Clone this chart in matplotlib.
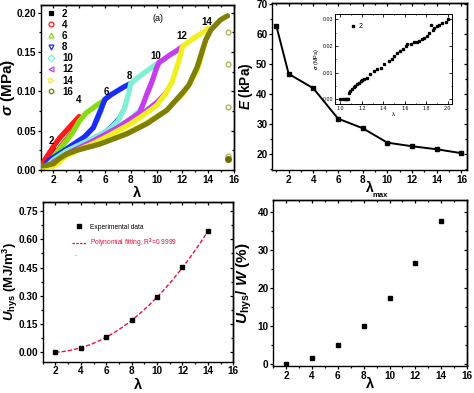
import numpy as np
import matplotlib
matplotlib.use("Agg")
import matplotlib.pyplot as plt
from matplotlib.lines import Line2D
from matplotlib.ticker import MultipleLocator, FormatStrFormatter

plt.rcParams['font.family'] = ['Liberation Sans', 'DejaVu Sans']
plt.rcParams['mathtext.fontset'] = 'custom'
plt.rcParams['mathtext.rm'] = 'Liberation Sans:bold'
plt.rcParams['mathtext.bf'] = 'Liberation Sans:bold'
plt.rcParams['mathtext.it'] = 'Liberation Sans:italic:bold'
plt.rcParams['axes.linewidth'] = 1.0

# ---------------- data: panel (a) hysteresis loops ----------------
cycle_labels = ['2', '4', '6', '8', '10', '12', '14', '16']

load_2 = [(1.0, 0.0), (1.2, 0.008), (1.5, 0.016), (1.8, 0.023), (2.0, 0.028)]
unload_2 = [(2.0, 0.028), (1.8, 0.018), (1.5, 0.009), (1.2, 0.003), (1.05, 0.0)]

load_4 = [(1.0, 0.002), (1.3, 0.012), (1.7, 0.022), (2.0, 0.03), (2.5, 0.041),
          (3.0, 0.05), (3.5, 0.059), (4.0, 0.068)]
unload_4 = [(4.0, 0.068), (3.8, 0.06), (3.4, 0.05), (3.0, 0.041), (2.5, 0.031),
            (2.0, 0.02), (1.6, 0.011), (1.3, 0.004), (1.1, 0.0)]

load_6 = [(1.3, 0.003), (1.8, 0.013), (2.5, 0.027), (3.0, 0.037), (3.5, 0.048),
          (4.0, 0.062), (4.5, 0.072), (5.0, 0.078), (5.5, 0.084), (6.0, 0.089)]
unload_6 = [(6.0, 0.089), (5.8, 0.075), (5.5, 0.063), (5.0, 0.05), (4.5, 0.042),
            (4.0, 0.036), (3.0, 0.026), (2.0, 0.013), (1.5, 0.005), (1.2, 0.0)]

load_8 = [(1.3, 0.004), (1.6, 0.012), (2.4, 0.02), (3.4, 0.031), (4.4, 0.042),
          (5.1, 0.054), (5.5, 0.07), (5.8, 0.082), (6.0, 0.09), (6.5, 0.096),
          (7.0, 0.101), (7.5, 0.106), (8.0, 0.11)]
unload_8 = [(8.0, 0.11), (7.8, 0.095), (7.5, 0.08), (7.0, 0.066), (6.5, 0.057),
            (6.0, 0.05), (5.0, 0.04), (4.0, 0.032), (3.0, 0.024), (2.0, 0.012),
            (1.5, 0.004)]

load_10 = [(1.5, 0.005), (2.0, 0.013), (3.0, 0.024), (4.0, 0.032), (5.0, 0.04),
           (6.0, 0.048), (6.5, 0.054), (7.0, 0.062), (7.5, 0.078), (7.8, 0.095),
           (8.0, 0.11), (8.5, 0.117), (9.0, 0.123), (9.5, 0.129), (10.0, 0.135)]
unload_10 = [(10.0, 0.135), (9.8, 0.115), (9.5, 0.1), (9.0, 0.085), (8.5, 0.075),
             (8.0, 0.067), (7.0, 0.056), (6.0, 0.047), (5.0, 0.04), (4.0, 0.033),
             (3.0, 0.025), (2.0, 0.013), (1.6, 0.005)]

load_12 = [(1.6, 0.003), (2.0, 0.01), (3.0, 0.02), (4.0, 0.028), (5.0, 0.036),
           (6.0, 0.045), (7.0, 0.054), (8.0, 0.065), (8.7, 0.073), (9.26, 0.097),
           (9.7, 0.115), (10.0, 0.13), (10.2, 0.137), (10.5, 0.14), (11.0, 0.146),
           (11.5, 0.151), (12.0, 0.157)]
unload_12 = [(12.0, 0.157), (11.85, 0.145), (11.5, 0.13), (11.2, 0.114), (10.7, 0.1),
             (10.0, 0.088), (9.0, 0.075), (8.0, 0.064), (7.0, 0.055), (6.0, 0.046),
             (5.0, 0.038), (4.0, 0.03), (3.0, 0.022), (2.0, 0.01), (1.6, 0.003)]

load_14 = [(1.8, 0.002), (2.0, 0.008), (3.0, 0.018), (4.0, 0.026), (5.0, 0.033),
           (6.0, 0.041), (7.0, 0.05), (8.0, 0.059), (9.0, 0.07), (10.0, 0.082),
           (10.7, 0.097), (11.2, 0.112), (11.5, 0.127), (11.8, 0.143), (12.0, 0.157),
           (12.5, 0.163), (13.0, 0.169), (13.5, 0.174), (14.0, 0.18)]
unload_14 = [(14.0, 0.18), (13.8, 0.16), (13.5, 0.14), (13.2, 0.125), (12.5, 0.105),
             (12.0, 0.093), (11.0, 0.08), (10.0, 0.07), (9.0, 0.06), (8.0, 0.051),
             (7.0, 0.044), (6.0, 0.038), (5.0, 0.032), (4.0, 0.025), (3.0, 0.017),
             (2.5, 0.008), (2.0, 0.003), (1.5, 0.002), (1.0, 0.003)]

load_16 = [(1.0, 0.005), (1.5, 0.006), (2.0, 0.008), (2.5, 0.015), (3.0, 0.02),
           (3.8, 0.025), (5.6, 0.033), (7.7, 0.046), (9.26, 0.059), (10.8, 0.076),
           (12.0, 0.098), (12.5, 0.108), (13.15, 0.131), (13.8, 0.165), (14.2, 0.178),
           (14.96, 0.191), (15.5, 0.196)]
unload_16 = [(15.5, 0.176), (15.5, 0.135), (15.5, 0.08), (15.5, 0.018)]
end_16 = [(15.55, 0.014)]

loads = [load_2, load_4, load_6, load_8, load_10, load_12, load_14, load_16]
unloads = [unload_2, unload_4, unload_6, unload_8, unload_10, unload_12, unload_14, unload_16]

# ---------------- data: panel (b) modulus ----------------
lam_max = [1, 2, 4, 6, 8, 10, 12, 14, 16]
E_kPa = [62.7, 46.7, 41.9, 31.8, 28.6, 23.8, 22.6, 21.6, 20.3]

# inset: first cycle, lambda_max = 2
inset_lam = [1.00, 1.02, 1.04, 1.05, 1.06, 1.07, 1.08, 1.09, 1.11, 1.125, 1.14, 1.156,
             1.17, 1.19, 1.205, 1.22, 1.25, 1.28, 1.31, 1.34, 1.375, 1.41, 1.45, 1.48,
             1.5, 1.53, 1.56, 1.58, 1.61, 1.625, 1.66, 1.69, 1.71, 1.73, 1.76, 1.78,
             1.81, 1.83, 1.84, 1.86, 1.875, 1.9, 1.92, 1.95, 1.98, 2.0]
inset_sig = [0.0, 0.0, 0.0, 0.0, 0.0, 0.0, 0.0025, 0.003, 0.0038, 0.0044, 0.005, 0.0056,
             0.0062, 0.0069, 0.0071, 0.0075, 0.0081, 0.0094, 0.0106, 0.0112, 0.0119,
             0.0131, 0.0144, 0.0152, 0.0163, 0.0175, 0.0181, 0.0188, 0.0198, 0.0206,
             0.0209, 0.0213, 0.0216, 0.0219, 0.0225, 0.0231, 0.0238, 0.025, 0.028,
             0.026, 0.0269, 0.0275, 0.028, 0.0285, 0.029, 0.030]

# ---------------- data: panel (c) and (d) ----------------
lam_c = [2, 4, 6, 8, 10, 12, 14]
U_hys = [0.0, 0.025, 0.08, 0.169, 0.293, 0.451, 0.642]
U_ratio = [0.0, 1.5, 4.9, 10.1, 17.4, 26.6, 37.8]

# ---------------- style ----------------
colors = ['#000000', '#ff1a1a', '#86dc10', '#1a2bff', '#7ff0d4', '#c83cf0', '#f0f020', '#7f7f00']
markers = ['s', 'o', '^', 'v', 'D', '<', '>', 'h']

W, H = 474, 393
fig = plt.figure(figsize=(W / 100, H / 100), dpi=100)


def add_ax(l, r, t, b):
    return fig.add_axes([l / W, 1 - b / H, (r - l) / W, (b - t) / H])


def style_ticks(ax, xmaj, xmin, ymaj, ymin, fs=7.2):
    ax.xaxis.set_major_locator(MultipleLocator(xmaj))
    ax.xaxis.set_minor_locator(MultipleLocator(xmin))
    ax.yaxis.set_major_locator(MultipleLocator(ymaj))
    ax.yaxis.set_minor_locator(MultipleLocator(ymin))
    ax.tick_params(which='both', direction='out', top=False, right=False,
                   labelsize=fs, width=0.9, pad=1.0)
    ax.tick_params(which='major', length=2.3)
    ax.tick_params(which='minor', length=1.4)
    sx = ax.secondary_xaxis('top')
    sx.xaxis.set_major_locator(MultipleLocator(xmaj))
    sx.xaxis.set_minor_locator(MultipleLocator(xmin))
    sx.tick_params(which='both', direction='in', labeltop=False, width=0.9)
    sx.tick_params(which='major', length=2.5)
    sx.tick_params(which='minor', length=1.5)
    sy = ax.secondary_yaxis('right')
    sy.yaxis.set_major_locator(MultipleLocator(ymaj))
    sy.yaxis.set_minor_locator(MultipleLocator(ymin))
    sy.tick_params(which='both', direction='in', labelright=False, width=0.9)
    sy.tick_params(which='major', length=2.5)
    sy.tick_params(which='minor', length=1.5)


def bold_ticklabels(ax):
    for lab in ax.get_xticklabels() + ax.get_yticklabels():
        lab.set_fontweight('bold')


def place_labels(ax, xl, yl, xlab_y, ylab_x, xfs=10.5, yfs=11.0):
    ax.set_xlabel(xl, fontsize=xfs, fontweight='bold')
    ax.set_ylabel(yl, fontsize=yfs, fontweight='bold')
    ax.xaxis.label.set_va('center')
    ax.yaxis.label.set_va('center')
    ax.xaxis.set_label_coords(0.5, xlab_y)
    ax.yaxis.set_label_coords(ylab_x, 0.5)


# ---------------- panel (a) ----------------
axa = add_ax(40.5, 234, 5, 170)
for i, (ld, ul) in enumerate(zip(loads, unloads)):
    lx, ly = zip(*ld)
    axa.plot(lx, ly, color=colors[i], lw=3.8, solid_capstyle='round', zorder=2 + i)
    ux, uy = zip(*ul)
    if i == 7:
        axa.plot(ux, uy, ls='none', marker='o', ms=3.5, mfc='none', mec='#b8b860',
                 mew=1.0, zorder=2 + i)
        ex, ey = zip(*end_16)
        axa.plot(ex, ey, ls='none', marker='o', ms=4, color='#6b6b00', zorder=2 + i)
    else:
        axa.plot(ux, uy, color=colors[i], lw=1.8, solid_capstyle='round', zorder=2 + i)
axa.set_xlim(1, 16)
axa.set_ylim(0, 0.2098)
style_ticks(axa, 2, 1, 0.05, 0.025)
axa.yaxis.set_major_formatter(FormatStrFormatter('%.2f'))
bold_ticklabels(axa)
place_labels(axa, 'λ', r'$\mathit{\sigma}$ (MPa)', -0.14, -0.168)

handles = [Line2D([], [], ls='none', marker=m, ms=3.5, color=c,
                  mfc=(c if k == 0 else 'none'), mew=0.9)
           for k, (m, c) in enumerate(zip(markers, colors))]
axa.legend(handles, cycle_labels, loc='upper left', bbox_to_anchor=(0.0, 1.02),
           frameon=False, prop={'size': 7, 'weight': 'bold'}, handlelength=0.8,
           handletextpad=0.7, labelspacing=0.12, borderaxespad=0.3)

label_pos = [(1.88, 0.037), (3.92, 0.0885), (6.1, 0.099), (7.9, 0.120),
             (9.9, 0.1447), (11.98, 0.1706), (13.9, 0.1885)]
for txt, (x, y) in zip(cycle_labels[:7], label_pos):
    axa.text(x, y, txt, fontsize=7, fontweight='bold', ha='center', va='center', zorder=20)
axa.text(0.607, 0.92, '(a)', transform=axa.transAxes, fontsize=6.5, ha='center', va='center')

# ---------------- panel (b) ----------------
axb = add_ax(272, 467, 3, 170)
axb.plot(lam_max, E_kPa, color='black', lw=1.4, marker='s', ms=3.5)
axb.set_xlim(0.65, 16.45)
axb.set_ylim(14.7, 70.3)
style_ticks(axb, 2, 1, 10, 5)
bold_ticklabels(axb)
place_labels(axb, 'λ', r'$\mathit{E}$ (kPa)', -0.105, -0.135, xfs=10, yfs=9.8)
axb.text(0.515, -0.15, 'max', transform=axb.transAxes, fontsize=5.5, fontweight='bold',
         ha='left', va='center')

axi = add_ax(335, 452, 14, 104)
axi.plot(inset_lam, inset_sig, ls='none', marker='s', ms=1.4, color='black')
axi.set_xlim(0.95, 2.04)
axi.set_ylim(-0.0018, 0.032)
axi.xaxis.set_major_locator(MultipleLocator(0.2))
axi.xaxis.set_minor_locator(MultipleLocator(0.1))
axi.yaxis.set_major_locator(MultipleLocator(0.01))
axi.yaxis.set_minor_locator(MultipleLocator(0.005))
axi.yaxis.set_major_formatter(FormatStrFormatter('%.2f'))
axi.tick_params(which='both', direction='in', top=True, right=True, labelsize=3.8,
                width=0.6, pad=1.5)
axi.tick_params(which='major', length=2)
axi.tick_params(which='minor', length=1)
for s in axi.spines.values():
    s.set_linewidth(0.7)
axi.set_xlabel('λ', fontsize=4.5, labelpad=0.5)
axi.set_ylabel(r'$\sigma$ (MPa)', fontsize=4, labelpad=1)
axi.legend([Line2D([], [], ls='none', marker='s', ms=2, color='black')], ['2'],
           loc='upper left', bbox_to_anchor=(0.08, 0.97), frameon=False,
           prop={'size': 5}, handlelength=0.6, handletextpad=0.6)

# ---------------- panel (c) ----------------
axc = add_ax(42.7, 233.3, 201.7, 361.7)
coef = np.polyfit(lam_c, U_hys, 3)
xf = np.linspace(min(lam_c), max(lam_c), 200)
axc.plot(xf, np.polyval(coef, xf), color='#e8103c', lw=1.0, ls=(0, (3, 1.5)), zorder=2)
axc.plot(lam_c, U_hys, ls='none', marker='s', ms=3.5, color='black', zorder=3)
axc.set_xlim(1, 16)
axc.set_ylim(-0.05, 0.80)
style_ticks(axc, 2, 1, 0.15, 0.075)
axc.yaxis.set_major_formatter(FormatStrFormatter('%.2f'))
bold_ticklabels(axc)
place_labels(axc, 'λ', r'$\mathit{U}_{\rm hys}$ (MJ/m$^{\rm 3}$)', -0.145, -0.172, yfs=9.5)
legc = axc.legend([Line2D([], [], ls='none', marker='s', ms=3, color='black'),
                   Line2D([], [], color='#e8103c', lw=0.9, ls=(0, (2, 1)))],
                  ['Experimental data', r'Polynomial fitting, R$^2$=0.9999'],
                  loc='upper left', bbox_to_anchor=(0.12, 0.9), frameon=False,
                  prop={'size': 4.8}, handlelength=2.2, handletextpad=0.5,
                  labelspacing=0.9)
legc.get_texts()[1].set_color('#e8103c')
axc.text(0.175, 0.66, '-', transform=axc.transAxes, fontsize=4, color='#555555',
         ha='center', va='center')

# ---------------- panel (d) ----------------
axd = add_ax(273.3, 467, 200, 366)
axd.plot(lam_c, U_ratio, ls='none', marker='s', ms=3.5, color='black')
axd.set_xlim(1, 16)
axd.set_ylim(-0.5, 43.2)
style_ticks(axd, 2, 1, 10, 5)
bold_ticklabels(axd)
place_labels(axd, 'λ', r'$\mathit{U}_{\rm hys}$/ $\mathit{W}$ (%)', -0.11, -0.15)

fig.savefig('out.png', dpi=100)
